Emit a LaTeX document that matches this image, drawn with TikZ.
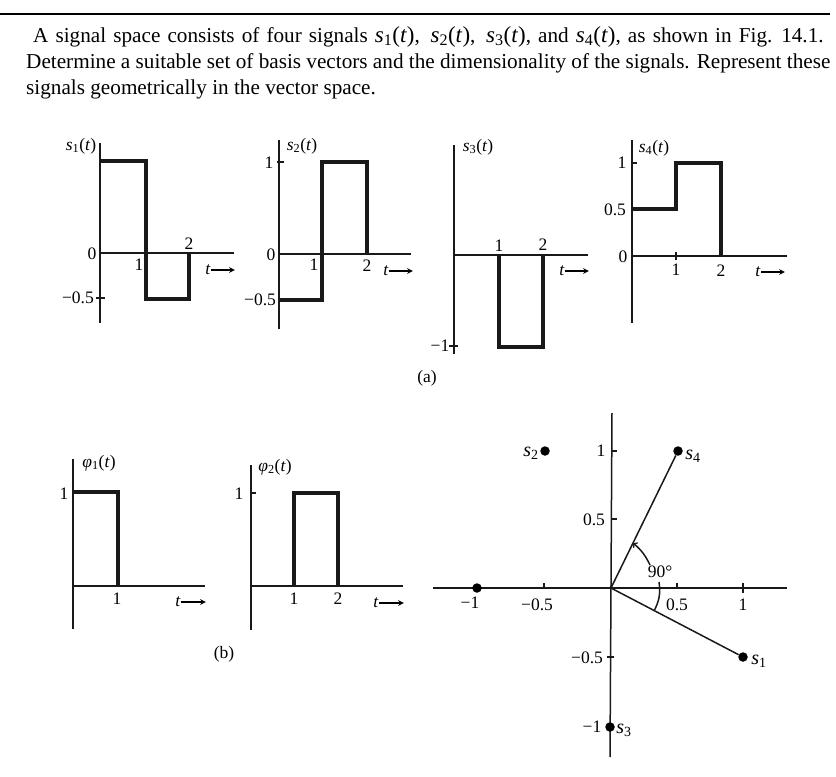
\documentclass[tikz,border=0pt]{standalone}
\usepackage{fontspec}
\setmainfont{Liberation Serif}
\newcommand{\sigt}[1]{\textit{s}\textsubscript{#1}(\textit{t})}
\newcommand{\phit}[1]{\textit{φ}\textsubscript{#1}(\textit{t})}
\newcommand{\sigp}[1]{{\fontsize{23}{24}\selectfont\sigt{#1}}}
\tikzset{
  para/.style={anchor=base west, inner sep=0pt, font=\fontsize{21.2}{24}\selectfont},
  lbl/.style={inner sep=0pt, font=\fontsize{17.5}{20}\selectfont},
  sname/.style={inner sep=0pt, font=\fontsize{20}{22}\selectfont},
  axis/.style={line width=1.5pt, color=black!90},
  tickmark/.style={line width=1.1pt, color=black!90},
  signal/.style={line width=3.1pt, color=black!90, line join=miter},
  vec/.style={line width=1.5pt, color=black!90},
  tarrow/.style={-stealth, line width=1.5pt},
  point/.style={circle, fill=black, inner sep=0pt, minimum size=9.5pt}
}
\begin{document}
\begin{tikzpicture}[x=1pt, y=-1pt]
\useasboundingbox (0,0) rectangle (836,777);
\draw[line width=1.7pt] (0,14) -- (830,14);
\node[para] (line1) at (33,42) {\spaceskip=0.335em A signal space consists of four signals \sigp{1},\, \sigp{2},\, \sigp{3}, and \sigp{4}, as shown in Fig. 14.1.};
\node[para] (line2) at (26,68) {Determine a suitable set of basis vectors and the dimensionality of the signals. Represent these};
\node[para] (line3) at (26,94) {signals geometrically in the vector space.};

\draw[axis] (100,143) -- (100,323);
\draw[axis] (100,253) -- (234,253);
\draw[tickmark] (96,298) -- (105,298);
\draw[signal] (101,161) -- (146,161) -- (146,299) -- (189,299) -- (189,253);
\node[lbl] (s1name) at (81,146) {\sigt{1}};
\node[lbl] (s1zero) at (92,254) {0};
\node[lbl] (s1one) at (139,265) {1};
\node[lbl] (s1two) at (189,244) {2};
\node[lbl] (s1low) at (78,298) {−0.5};
\node[lbl] (s1t) at (208,270) {\textit{t}};
\draw[tarrow] (s1t.east) -- ++(24,0);

\draw[axis] (279,140) -- (279,329);
\draw[axis] (279,254) -- (411,254);
\draw[tickmark] (277,162) -- (284,162);
\draw[signal] (280,300) -- (322,300) -- (322,162) -- (367,162) -- (367,254);
\node[lbl] (s2name) at (302,146) {\sigt{2}};
\node[lbl] (s2high) at (269,163) {1};
\node[lbl] (s2zero) at (271,255) {0};
\node[lbl] (s2one) at (314,265) {1};
\node[lbl] (s2two) at (367,266) {2};
\node[lbl] (s2low) at (260,300) {−0.5};
\node[lbl] (s2t) at (386,271) {\textit{t}};
\draw[tarrow] (s2t.east) -- ++(24,0);

\draw[axis] (454,145) -- (454,354);
\draw[axis] (454,255) -- (588,255);
\draw[tickmark] (449,346) -- (458,346);
\draw[signal] (499,255) -- (499,347) -- (543,347) -- (543,255);
\node[lbl] (s3name) at (478,147) {\sigt{3}};
\node[lbl] (s3one) at (499,246) {1};
\node[lbl] (s3two) at (543,245) {2};
\node[lbl] (s3low) at (440,346) {−1};
\node[lbl] (s3t) at (562,271) {\textit{t}};
\draw[tarrow] (s3t.east) -- ++(24,0);

\draw[axis] (632,140) -- (632,323);
\draw[axis] (632,256) -- (787,256);
\draw[tickmark] (632,163) -- (637,163);
\draw[tickmark] (676,252) -- (676,260);
\draw[signal] (633,209) -- (676,209) -- (676,163) -- (721,163) -- (721,256);
\node[lbl] (s4name) at (654,148) {\sigt{4}};
\node[lbl] (s4high) at (622,163) {1};
\node[lbl] (s4half) at (615,210) {0.5};
\node[lbl] (s4zero) at (623,257) {0};
\node[lbl] (s4one) at (676,270) {1};
\node[lbl] (s4two) at (721,271) {2};
\node[lbl] (s4t) at (758,272) {\textit{t}};
\draw[tarrow] (s4t.east) -- ++(24,0);

\node[lbl] (parta) at (427,378) {(a)};

\draw[axis] (73,459) -- (73,629);
\draw[axis] (73,586) -- (205,586);
\draw[signal] (74,492) -- (118,492) -- (118,586);
\node[lbl] (b1name) at (99,463) {\phit{1}};
\node[lbl] (b1high) at (64,494) {1};
\node[lbl] (b1one) at (117,599) {1};
\node[lbl] (b1t) at (178,602) {\textit{t}};
\draw[tarrow] (b1t.east) -- ++(25,0);

\draw[axis] (251,465) -- (251,630);
\draw[axis] (251,586) -- (403,586);
\draw[tickmark] (251,493) -- (256,493);
\draw[signal] (294,586) -- (294,493) -- (338,493) -- (338,586);
\node[lbl] (b2name) at (275,467) {\phit{2}};
\node[lbl] (b2high) at (239,494) {1};
\node[lbl] (b2one) at (294,599) {1};
\node[lbl] (b2two) at (338,599) {2};
\node[lbl] (b2t) at (376,603) {\textit{t}};
\draw[tarrow] (b2t.east) -- ++(25,0);

\node[lbl] (partb) at (224,654) {(b)};

\coordinate (origin) at (611,588);
\draw[axis] (612,413) -- (610,757);
\draw[axis] (433,588) -- (787,588);
\draw[tickmark] (544,583) -- (544,588);
\draw[tickmark] (677,583) -- (677,588);
\draw[tickmark] (743,583) -- (743,593);
\draw[tickmark] (612,451) -- (617,451);
\draw[tickmark] (612,519) -- (617,519);
\draw[tickmark] (607,657) -- (614,657);
\node[point] (ptone) at (743,657) {};
\node[point] (pttwo) at (545,451) {};
\node[point] (ptthree) at (610,727) {};
\node[point] (ptfour) at (678,451) {};
\node[point] (ptminus) at (477,588) {};
\draw[vec] (origin) -- (ptone);
\draw[vec] (origin) -- (ptfour);
\coordinate (arcA) at (654,611);
\coordinate (arcB) at (659,582);
\coordinate (arcC) at (650,565);
\coordinate (arcD) at (633,543);
\draw[vec] (arcA) to[bend right=18] (arcB);
\draw[vec, ->] (arcC) to[bend right=12] (arcD);
\node[lbl] (angle) at (660,572) {90°};
\node[sname] (nameone) at (759,661) {\textit{s}\textsubscript{1}};
\node[sname] (nametwo) at (531,453) {\textit{s}\textsubscript{2}};
\node[sname] (namethree) at (624,730) {\textit{s}\textsubscript{3}};
\node[sname] (namefour) at (693,456) {\textit{s}\textsubscript{4}};
\node[lbl] (yone) at (601,451) {1};
\node[lbl] (yhalf) at (594,520) {0.5};
\node[lbl] (ylow) at (587,658) {−0.5};
\node[lbl] (yminus) at (592,727) {−1};
\node[lbl] (xminus) at (470,603) {−1};
\node[lbl] (xlow) at (537,605) {−0.5};
\node[lbl] (xhalf) at (677,605) {0.5};
\node[lbl] (xone) at (743,605) {1};
\end{tikzpicture}
\end{document}
